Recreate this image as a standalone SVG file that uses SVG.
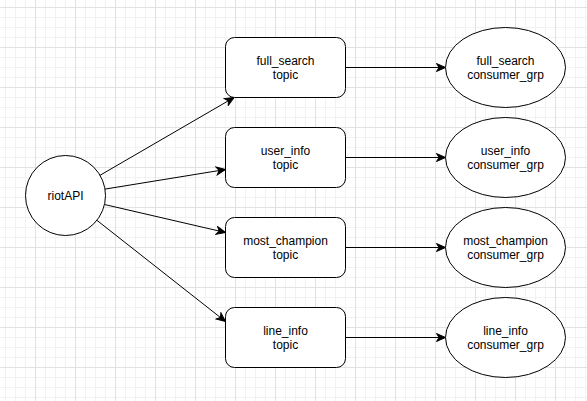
<svg xmlns="http://www.w3.org/2000/svg" width="587" height="401" viewBox="0 0 587 401">
<style>
.shape{fill:#ffffff;stroke:#000000;stroke-width:1}
.lbl{font-family:"Liberation Sans",Arial,sans-serif;font-size:12px;fill:#000000;text-anchor:middle}
.edge{fill:none;stroke:#000000;stroke-width:1}
</style>
<defs>
<pattern id="minor" x="5" y="7" width="10" height="10" patternUnits="userSpaceOnUse">
<path d="M0.5 0V10M0 0.5H10" fill="none" stroke="#f2f2f2" stroke-width="1"/>
</pattern>
<pattern id="major" x="35" y="7" width="40" height="40" patternUnits="userSpaceOnUse">
<path d="M0.5 0V40M0 0.5H40" fill="none" stroke="#e2e2e2" stroke-width="1"/>
</pattern>
<marker id="arr" viewBox="-10 -5 11 10" refX="0" refY="0" markerWidth="11" markerHeight="10" markerUnits="userSpaceOnUse" orient="auto">
<path d="M0,0 L-9,-4 L-6.5,0 L-9,4 Z" fill="#000000" stroke="#000000" stroke-width="1" stroke-linejoin="miter"/>
</marker>
</defs>
<rect width="587" height="401" fill="#ffffff"/>
<rect width="587" height="401" fill="url(#minor)"/>
<rect width="587" height="401" fill="url(#major)"/>

<g id="connectors">
<path class="edge" marker-end="url(#arr)" d="M100,175.3 L234,97.5"/>
<path class="edge" marker-end="url(#arr)" d="M105,189.1 L225.5,169.5"/>
<path class="edge" marker-end="url(#arr)" d="M104.5,204.5 L225.5,232.5"/>
<path class="edge" marker-end="url(#arr)" d="M96.9,220.3 L225.5,321.5"/>
<path class="edge" marker-end="url(#arr)" d="M345.5,67.5 L445.5,67.5"/>
<path class="edge" marker-end="url(#arr)" d="M345.5,157.5 L445.5,157.5"/>
<path class="edge" marker-end="url(#arr)" d="M345.5,247.5 L445.5,247.5"/>
<path class="edge" marker-end="url(#arr)" d="M345.5,337.5 L445.5,337.5"/>
</g>

<g id="riotAPI">
<circle class="shape" cx="65.5" cy="195.5" r="40"/>
<text class="lbl" x="65.5" y="199.5">riotAPI</text>
</g>

<g id="full_search_topic">
<rect class="shape" x="225.5" y="37.5" width="120" height="60" rx="9" ry="9"/>
<text class="lbl" x="285.5" y="64.5">full_search</text>
<text class="lbl" x="285.5" y="78.5">topic</text>
</g>
<g id="user_info_topic">
<rect class="shape" x="225.5" y="127.5" width="120" height="60" rx="9" ry="9"/>
<text class="lbl" x="285.5" y="154.5">user_info</text>
<text class="lbl" x="285.5" y="168.5">topic</text>
</g>
<g id="most_champion_topic">
<rect class="shape" x="225.5" y="217.5" width="120" height="60" rx="9" ry="9"/>
<text class="lbl" x="285.5" y="244.5">most_champion</text>
<text class="lbl" x="285.5" y="258.5">topic</text>
</g>
<g id="line_info_topic">
<rect class="shape" x="225.5" y="307.5" width="120" height="60" rx="9" ry="9"/>
<text class="lbl" x="285.5" y="334.5">line_info</text>
<text class="lbl" x="285.5" y="348.5">topic</text>
</g>

<g id="full_search_consumer_grp">
<ellipse class="shape" cx="505.5" cy="67.5" rx="60" ry="40"/>
<text class="lbl" x="505.5" y="64.5">full_search</text>
<text class="lbl" x="505.5" y="78.5">consumer_grp</text>
</g>
<g id="user_info_consumer_grp">
<ellipse class="shape" cx="505.5" cy="157.5" rx="60" ry="40"/>
<text class="lbl" x="505.5" y="154.5">user_info</text>
<text class="lbl" x="505.5" y="168.5">consumer_grp</text>
</g>
<g id="most_champion_consumer_grp">
<ellipse class="shape" cx="505.5" cy="247.5" rx="60" ry="40"/>
<text class="lbl" x="505.5" y="244.5">most_champion</text>
<text class="lbl" x="505.5" y="258.5">consumer_grp</text>
</g>
<g id="line_info_consumer_grp">
<ellipse class="shape" cx="505.5" cy="337.5" rx="60" ry="40"/>
<text class="lbl" x="505.5" y="334.5">line_info</text>
<text class="lbl" x="505.5" y="348.5">consumer_grp</text>
</g>
</svg>
